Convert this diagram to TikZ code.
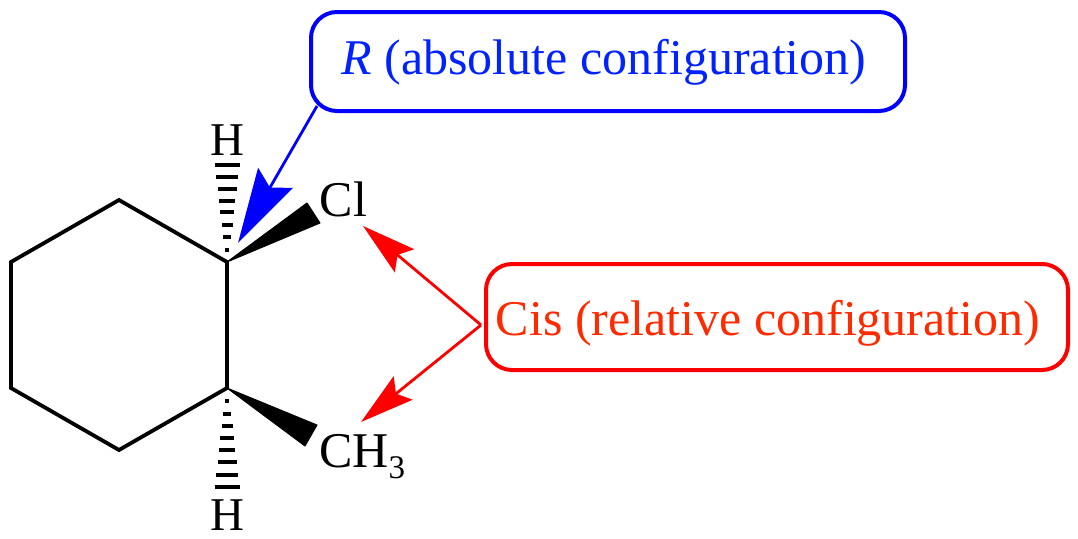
\documentclass[tikz,border=0pt]{standalone}
\usepackage{fontspec}
\setmainfont{Liberation Serif}
\usetikzlibrary{arrows.meta}
\definecolor{labred}{HTML}{FF2A00}
\definecolor{labblue}{HTML}{0022FF}
\tikzset{
  x=1pt,y=-1pt,
  bond/.style={line width=3.8pt,line join=miter,black},
  wedge/.style={fill=black,draw=black,line width=1pt,line join=round},
  hashbar/.style={line width=4pt,black},
  atom/.style={font=\fontsize{47}{47}\selectfont,inner sep=0pt,black},
  bigatom/.style={font=\fontsize{50}{50}\selectfont,inner sep=0pt,black},
  callout/.style={draw,rounded corners=26pt,line width=4pt,inner sep=0pt,fill=none},
  caption/.style={font=\fontsize{50}{50}\selectfont,inner sep=0pt},
  bluearrow/.style={draw=blue,line width=2.8pt,-{Stealth[length=75pt,width=40pt,inset=11pt,fill=blue]}},
  redarrow/.style={draw=red,line width=2.8pt,-{Stealth[length=54pt,width=30pt,inset=9pt,fill=red]}},
}
\begin{document}
\begin{tikzpicture}
\useasboundingbox (0,0) rectangle (1078,538);
% ring
\coordinate (c1) at (227,262);
\coordinate (c2) at (119,200);
\coordinate (c3) at (11,262);
\coordinate (c4) at (11,388);
\coordinate (c5) at (119,450);
\coordinate (c6) at (227,388);
\draw[bond] (c1) -- (c2) -- (c3) -- (c4) -- (c5) -- (c6) -- cycle;
% wedges
\coordinate (w1a) at (307,203);
\coordinate (w1b) at (320,223);
\coordinate (w2a) at (317,425);
\coordinate (w2b) at (305,446);
\filldraw[wedge] (c1) -- (w1a) -- (w1b) -- cycle;
\filldraw[wedge] (c6) -- (w2a) -- (w2b) -- cycle;
% hashes up
\foreach \y/\h in {250/2.2,237/4,225/5.5,212/7,201/8.2,189/9.5,177/11,165/12.5}
  \draw[hashbar] (227-\h,\y) -- (227+\h,\y);
% hashes down
\foreach \y/\h in {401/2.2,414/4,426/5.5,438/7,450/8.2,462/9.5,475/11,487/12.5}
  \draw[hashbar] (227-\h,\y) -- (227+\h,\y);
% atoms
\node[atom,anchor=base] (h1) at (227.5,155) {H};
\node[bigatom,anchor=base] (cl) at (343.5,216) {Cl};
\node[bigatom,anchor=base west] (ch3) at (319,467) {CH\raisebox{-0.22em}{\fontsize{33}{33}\selectfont 3}};
\node[atom,anchor=base] (h2) at (227.5,530) {H};
% callouts
\node[callout,draw=blue,minimum width=594pt,minimum height=99pt] (bluebox) at (608,61.5) {};
\node[caption,text=labblue] (bluetext) at (604,62) {\textit{R} (absolute configuration)};
\node[callout,draw=red,minimum width=582pt,minimum height=106pt] (redbox) at (777,317) {};
\node[caption,text=labred] (redtext) at (768,323) {Cis (relative configuration)};
% arrows
\coordinate (bstart) at (317,106);
\coordinate (btip) at (238,243);
\draw[bluearrow] (bstart) -- (btip);
\coordinate (rj) at (481,325);
\coordinate (rtip1) at (363,226);
\coordinate (rtip2) at (361,422);
\draw[redarrow] (rj) -- (rtip1);
\draw[redarrow] (rj) -- (rtip2);
\end{tikzpicture}
\end{document}
